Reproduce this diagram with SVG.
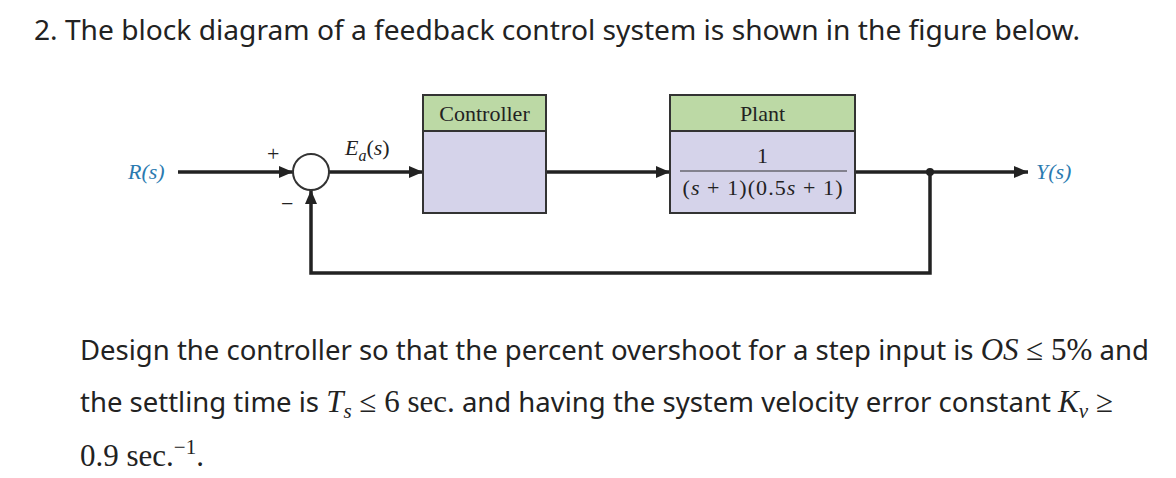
<svg xmlns="http://www.w3.org/2000/svg" width="1176" height="478" viewBox="0 0 1176 478">
<style>
.t{font-family:"Noto Sans","DejaVu Sans",sans-serif;font-size:27.5px;fill:#222}
.m{font-family:"Liberation Serif",serif;fill:#222}
.b{font-family:"Liberation Serif",serif;font-size:22px;fill:#222}
.w{stroke:#222;stroke-width:3.5;fill:none}
.hdr{fill:#bcd9a5;stroke:#333;stroke-width:2}
.body{fill:#d5d3ea;stroke:#333;stroke-width:2}
.blue{fill:#2a7ab0}
</style>
<defs>
<marker id="A" viewBox="0 0 14 12" refX="14" refY="6" markerWidth="14" markerHeight="12" orient="auto" markerUnits="userSpaceOnUse"><path d="M0,0L14,6L0,12z" fill="#222"/></marker></defs>
<text class="t" x="34" y="40" font-size="26" textLength="1046" lengthAdjust="spacingAndGlyphs">2.  The block diagram of a feedback control system is shown in the figure below.</text>
<g id="connectors">
<line class="w" x1="178" y1="172" x2="293" y2="172" marker-end="url(#A)"/>
<line class="w" x1="329" y1="172" x2="423" y2="172" marker-end="url(#A)"/>
<line class="w" x1="546" y1="172" x2="670" y2="172" marker-end="url(#A)"/>
<line class="w" x1="855" y1="172" x2="1028" y2="172" marker-end="url(#A)"/>
<polyline class="w" points="930,172 930,273 311,273 311,190" marker-end="url(#A)"/>
<circle cx="930" cy="172" r="4" fill="#222"/>
</g>
<g id="sum"><circle cx="311" cy="172" r="18" fill="#fff" stroke="#333" stroke-width="2"/>
<text class="b" x="267" y="161">+</text><text class="b" x="281" y="211">−</text></g>
<g id="R"><text class="b blue" x="128" y="179" font-style="italic">R(s)</text></g>
<g id="Ea"><text class="b" x="345" y="155"><tspan font-style="italic">E</tspan><tspan font-style="italic" font-size="16" dy="6">a</tspan><tspan dy="-6">(</tspan><tspan font-style="italic">s</tspan>)</text></g>
<g id="controller"><rect class="body" x="423" y="131" width="123" height="82"/><rect class="hdr" x="423" y="95" width="123" height="36"/><text class="b" x="484.5" y="121" text-anchor="middle">Controller</text></g>
<g id="plant"><rect class="body" x="670" y="131" width="185" height="82"/><rect class="hdr" x="670" y="95" width="185" height="36"/><text class="b" x="762.5" y="121" text-anchor="middle">Plant</text>
<text class="b" x="762.5" y="163" text-anchor="middle">1</text><line x1="680" y1="171" x2="847" y2="171" stroke="#333" stroke-width="1.2"/>
<text class="b" x="762.5" y="195" text-anchor="middle" textLength="160" lengthAdjust="spacing">(<tspan font-style="italic">s</tspan> + 1)(0.5<tspan font-style="italic">s</tspan> + 1)</text></g>
<g id="Y"><text class="b blue" x="1036" y="179" font-style="italic">Y(s)</text></g>
<text class="t" x="80" y="360">Design the controller so that the percent overshoot for a step input is <tspan class="m" font-size="31" font-style="italic">OS</tspan><tspan class="m" font-size="31"> ≤ 5%</tspan> and</text>
<text class="t" x="80" y="412">the settling time is <tspan class="m" font-size="31" font-style="italic">T</tspan><tspan class="m" font-size="21" font-style="italic" dy="6">s</tspan><tspan class="m" font-size="31" dy="-6"> ≤ 6 sec.</tspan> and having the system velocity error constant <tspan class="m" font-size="31" font-style="italic">K</tspan><tspan class="m" font-size="21" font-style="italic" dy="6">v</tspan><tspan class="m" font-size="31" dy="-6"> ≥</tspan></text>
<text class="m" x="80" y="466" font-size="31">0.9 sec.<tspan font-size="21" dy="-12">−1</tspan><tspan dy="12">.</tspan></text>
</svg>
